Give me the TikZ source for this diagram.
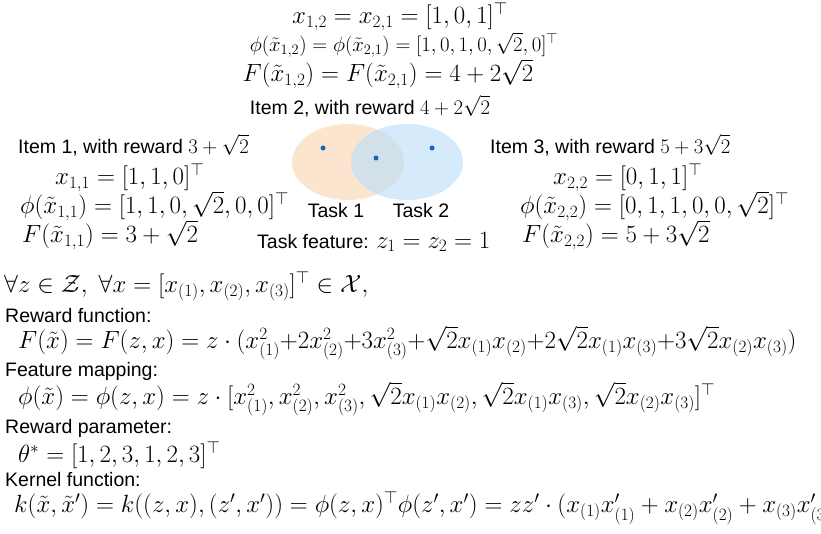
\documentclass[tikz,border=0pt]{standalone}
\usepackage{amsmath,amssymb}
\usepackage{fontspec}
\setsansfont{Liberation Sans}
\definecolor{orfill}{RGB}{250,222,195}
\definecolor{blfill}{RGB}{190,222,248}
\definecolor{dotc}{RGB}{25,100,180}
\begin{document}
\begin{tikzpicture}[x=1pt,y=-1pt,
  lab/.style={font=\fontsize{19.5}{22}\selectfont\sffamily,inner sep=0pt},
  eq/.style={font=\fontsize{23}{26}\selectfont,inner sep=0pt,anchor=west},
  dotm/.style={circle,fill=dotc,inner sep=0pt,minimum size=5pt}]
\useasboundingbox (0,0) rectangle (821,533);
\node[eq,anchor=center] (t1) at (400,17) {$x_{1,2}=x_{2,1}=[1,0,1]^\top$};
\node[eq,anchor=center,font=\fontsize{20}{22}\selectfont] (t2) at (404,45) {$\phi(\tilde x_{1,2})=\phi(\tilde x_{2,1})=[1,0,1,0,\sqrt2,0]^\top$};
\node[eq,anchor=center] (t3) at (388,74) {$F(\tilde x_{1,2})=F(\tilde x_{2,1})=4+2\sqrt2$};
\node[lab] (i2) at (370,106) {Item 2, with reward $4+2\sqrt2$};
% ellipses
\fill[orfill,opacity=0.8] (348,162) ellipse [x radius=56, y radius=38];
\fill[blfill,opacity=0.65] (407,162) ellipse [x radius=56, y radius=38];
\node[dotm] (d1) at (323,148) {};
\node[dotm] (d2) at (376,158) {};
\node[dotm] (d3) at (432,148) {};
\node[lab] (k1) at (336,211) {Task 1};
\node[lab] (k2) at (421,211) {Task 2};
\node[lab,anchor=west] (tf) at (257,242) {Task feature: \fontsize{24}{26}\selectfont$z_1=z_2=1$};
% item 1
\node[lab,anchor=west] (i1) at (18,145) {Item 1, with reward $3+\sqrt2$};
\node[eq] (a1) at (55,178) {$x_{1,1}=[1,1,0]^\top$};
\node[eq] (a2) at (20,206) {$\phi(\tilde x_{1,1})=[1,1,0,\sqrt2,0,0]^\top$};
\node[eq] (a3) at (22,235) {$F(\tilde x_{1,1})=3+\sqrt2$};
% item 3
\node[lab,anchor=west] (i3) at (490,145) {Item 3, with reward $5+3\sqrt2$};
\node[eq] (b1) at (553,178) {$x_{2,2}=[0,1,1]^\top$};
\node[eq] (b2) at (520,206) {$\phi(\tilde x_{2,2})=[0,1,1,0,0,\sqrt2]^\top$};
\node[eq] (b3) at (522,235) {$F(\tilde x_{2,2})=5+3\sqrt2$};
% bottom
\node[eq] (f0) at (4,286) {$\forall z\in\mathcal Z,\ \forall x=[x_{(1)},x_{(2)},x_{(3)}]^\top\in\mathcal X,$};
\node[lab,anchor=west] (r1) at (5,316) {Reward function:};
\node[eq] (r2) at (18,343) {$F(\tilde x)=F(z,x)=z\cdot(x_{(1)}^2{+}2x_{(2)}^2{+}3x_{(3)}^2{+}\sqrt2x_{(1)}x_{(2)}{+}2\sqrt2x_{(1)}x_{(3)}{+}3\sqrt2x_{(2)}x_{(3)})$};
\node[lab,anchor=west] (m1) at (5,371) {Feature mapping:};
\node[eq] (m2) at (18,399) {$\phi(\tilde x)=\phi(z,x)=z\cdot[x_{(1)}^2,x_{(2)}^2,x_{(3)}^2,\sqrt2x_{(1)}x_{(2)},\sqrt2x_{(1)}x_{(3)},\sqrt2x_{(2)}x_{(3)}]^\top$};
\node[lab,anchor=west] (p1) at (5,428) {Reward parameter:};
\node[eq] (p2) at (18,455) {$\theta^*=[1,2,3,1,2,3]^\top$};
\node[lab,anchor=west] (q1) at (5,480) {Kernel function:};
\node[eq] (q2) at (14,508) {$k(\tilde x,\tilde x')=k((z,x),(z',x'))=\phi(z,x)^\top\phi(z',x')=zz'\cdot(x_{(1)}x'_{(1)}+x_{(2)}x'_{(2)}+x_{(3)}x'_{(3)})^2$};
\end{tikzpicture}
\end{document}
